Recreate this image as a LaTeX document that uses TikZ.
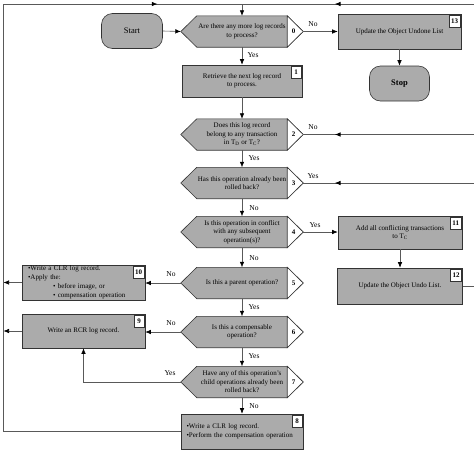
\documentclass[tikz,border=0pt]{standalone}
\usepackage{fontspec}
\setmainfont{Liberation Serif}
\usetikzlibrary{arrows.meta,calc,backgrounds,decorations.markings}
\newcommand{\tfnt}{\fontsize{7}{8.5}\selectfont}
\newcommand{\lfnt}{\fontsize{7.5}{9}\selectfont}
\begin{document}
\begin{tikzpicture}[x=1pt,y=-1pt,
  box/.style={draw=black!80, line width=0.6pt, fill=black!33, inner sep=0pt, font=\tfnt, align=center},
  term/.style={box, rounded corners=11pt, font=\fontsize{8.5}{10}\selectfont},
  hexn/.style={inner sep=0pt, minimum width=122pt, minimum height=31pt, font=\tfnt, align=center},
  hexshape/.style={draw=black!80, line width=0.6pt, fill=black!33},
  tagshape/.style={draw=black!80, line width=0.6pt, fill=white},
  num/.style={draw=black!80, line width=0.5pt, fill=white, font=\fontsize{7}{8}\selectfont\bfseries, inner xsep=2pt, inner ysep=1pt, minimum height=12.5pt, minimum width=10pt, anchor=north east},
  tagnum/.style={font=\fontsize{7}{8}\selectfont\bfseries, inner sep=0pt},
  lab/.style={font=\lfnt, inner sep=0pt},
  conn/.style={draw=black!65, line width=0.6pt},
  arr/.style={conn, -{Latex[length=5.5pt,width=4.5pt,color=black]}},
  midarr/.style={postaction={decorate}, decoration={markings, mark=at position #1 with {\arrow{Latex[length=5.5pt,width=4.5pt,color=black]}}}},
]
\useasboundingbox (0,0) rectangle (474,453);

% terminals and boxes
\node[term, minimum width=61pt, minimum height=35pt] (start) at (132,31) {Start};
\node[hexn] (d0) at (242,31.5) {Are there any more log records\\to process?};
\node[box, minimum width=123pt, minimum height=35pt] (b13) at (399.5,31.5) {Update the Object Undone List};
\node[term, minimum width=60pt, minimum height=35pt, font=\fontsize{8.5}{10}\selectfont\bfseries] (stop) at (399.5,83.5) {Stop};
\node[box, minimum width=120pt, minimum height=32pt] (b1) at (242,81) {Retrieve the next log record\\to process.};
\node[hexn] (d2) at (242,134.5) {Does this log record\\belong to any transaction\\in T\textsubscript{D} or T\textsubscript{C}?};
\node[hexn] (d3) at (242,183) {Has this operation already been\\rolled back?};
\node[hexn] (d4) at (242,232) {Is this operation in conflict\\with any subsequent\\operation(s)?};
\node[box, minimum width=124pt, minimum height=33pt] (b11) at (400,232.5) {Add all conflicting transactions\\to T\textsubscript{C}};
\node[box, minimum width=125pt, minimum height=36pt] (b12) at (400,286) {Update the Object Undo List.};
\node[hexn] (d5) at (242,283) {Is this a parent operation?};
\node[box, minimum width=123pt, minimum height=35pt, text width=111pt, align=left, font=\fontsize{7}{9}\selectfont] (b10) at (83.5,282.5) {•Write a CLR log record.\\•Apply the:\\\hspace*{25pt}• before image, or\\\hspace*{25pt}• compensation operation};
\node[hexn] (d6) at (242,332) {Is this a compensable\\operation?};
\node[box, minimum width=123pt, minimum height=34pt] (b9) at (83.5,331) {Write an RCR log record.};
\node[hexn] (d7) at (242,382) {Have any of this operation's\\child operations already been\\rolled back?};
\node[box, minimum width=122pt, minimum height=35pt, text width=111pt, align=left] (b8) at (242,431.5) {•Write a CLR log record.\\•Perform the compensation operation};

% hexagon outlines behind the decision texts
\begin{scope}[on background layer]
\foreach \n in {d0,d2,d3,d4,d5,d6,d7}{
  \path[hexshape] (\n.west) -- ($(\n.north west)+(16,0)$) -- ($(\n.north east)+(-16,0)$) -- (\n.east) -- ($(\n.south east)+(-16,0)$) -- ($(\n.south west)+(16,0)$) -- cycle;
}
\end{scope}
\foreach \n/\k in {d0/0,d2/2,d3/3,d4/4,d5/5,d6/6,d7/7}{
  \path[tagshape] ($(\n.north east)+(-16,0)$) -- (\n.east) -- ($(\n.south east)+(-16,0)$) -- cycle;
  \node[tagnum] (\n-n) at ($(\n.east)+(-9.5,0)$) {\k};
}

% numbers of boxes
\node[num] (b1-n) at ($(b1.north east)+(-1,1)$) {1};
\node[num] (b8-n) at ($(b8.north east)+(-1,1)$) {8};
\node[num] (b9-n) at ($(b9.north east)+(-1,1)$) {9};
\node[num] (b10-n) at ($(b10.north east)+(-1,1)$) {10};
\node[num] (b11-n) at ($(b11.north east)+(-1,1)$) {11};
\node[num] (b12-n) at ($(b12.north east)+(-1,1)$) {12};
\node[num] (b13-n) at ($(b13.north east)+(-1,1)$) {13};

% labels
\node[lab] (l0n) at (313,24) {No};
\node[lab] (l0y) at (253,55) {Yes};
\node[lab] (l2n) at (313,127) {No};
\node[lab] (l2y) at (254,158) {Yes};
\node[lab] (l3y) at (313,176) {Yes};
\node[lab] (l3n) at (254,208) {No};
\node[lab] (l4y) at (315,225) {Yes};
\node[lab] (l4n) at (254,258) {No};
\node[lab] (l5n) at (171,274) {No};
\node[lab] (l5y) at (254,307) {Yes};
\node[lab] (l6n) at (171,323) {No};
\node[lab] (l6y) at (254,356) {Yes};
\node[lab] (l7y) at (170,373) {Yes};
\node[lab] (l7n) at (254,406) {No};

% edge coordinates
\coordinate (r0) at (474,4);
\coordinate (jt) at (242,4);
\coordinate (lt) at (3.5,4);
\coordinate (lb) at (3.5,431.5);
\coordinate (r2) at (474,134.5);
\coordinate (r3) at (474,183);
\coordinate (r12) at (474,286);
\coordinate (l10) at (3.5,282.5);
\coordinate (l9) at (3.5,331);

% connectors
\draw[arr] (start.east) -- (d0.west);
\draw[arr] (d0.east) -- (b13.west);
\draw[arr] (b13.south) -- (stop.north);
\draw[arr] (d0.south) -- (b1.north);
\draw[arr] (b1.south) -- (d2.north);
\draw[conn, midarr=139pt] (r2) -- (d2.east);
\draw[arr] (d2.south) -- (d3.north);
\draw[conn, midarr=139pt] (r3) -- (d3.east);
\draw[arr] (d3.south) -- (d4.north);
\draw[arr] (d4.east) -- (d4.east -| b11.west);
\draw[arr] (b11.south) -- (b12.north);
\draw[conn] (b12.east) -- (r12);
\draw[arr] (d4.south) -- (d5.north);
\draw[arr] (d5.west) -- (d5.west -| b10.east);
\draw[arr] (b10.west) -- (l10);
\draw[arr] (d5.south) -- (d6.north);
\draw[arr] (d6.west) -- (d6.west -| b9.east);
\draw[arr] (b9.west) -- (l9);
\draw[arr] (d6.south) -- (d7.north);
\draw[arr] (d7.west) -| (b9.south);
\draw[arr] (d7.south) -- (b8.north);
\draw[arr, midarr=758.5pt] (b8.west) -- (lb) -- (lt) -- (jt) -- (d0.north);
\draw[conn, midarr=139pt] (r0) -- (jt);
\end{tikzpicture}
\end{document}
